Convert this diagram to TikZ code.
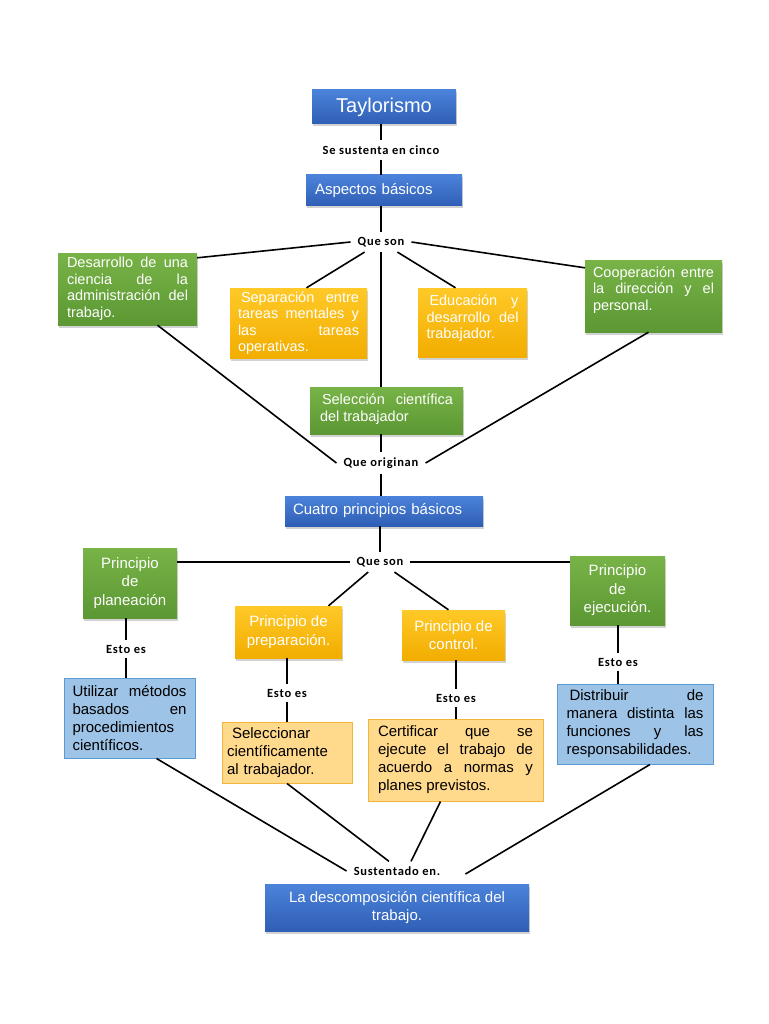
\documentclass[tikz,border=0pt]{standalone}
\usepackage{fontspec}
\setmainfont{Liberation Sans}
\newfontfamily\lblfont[LetterSpace=6]{Carlito}
\usetikzlibrary{shadows}

\definecolor{bluetop}{HTML}{4C83DA}
\definecolor{bluebot}{HTML}{2F5EB6}
\definecolor{greentop}{HTML}{77B347}
\definecolor{greenbot}{HTML}{5C9833}
\definecolor{orangetop}{HTML}{FFC928}
\definecolor{orangebot}{HTML}{F2AD00}
\definecolor{lbfill}{HTML}{9DC3E6}
\definecolor{lbline}{HTML}{5B9BD5}
\definecolor{lofill}{HTML}{FFD98C}
\definecolor{loline}{HTML}{F4B63A}

\tikzset{
  darkbox/.style={draw=none, text=white, inner sep=0pt,
    font=\fontsize{14.5}{16.5}\selectfont,
    drop shadow={shadow xshift=1pt, shadow yshift=-2.5pt, opacity=0.35}},
  bluebox/.style={darkbox, top color=bluetop, bottom color=bluebot},
  greenbox/.style={darkbox, top color=greentop, bottom color=greenbot},
  orangebox/.style={darkbox, top color=orangetop, bottom color=orangebot},
  principle/.style={align=center, font=\fontsize{15}{18.5}\selectfont},
  lightbox/.style={line width=1pt, text=black, inner sep=0pt,
    font=\fontsize{15}{18}\selectfont},
  lbbox/.style={lightbox, draw=lbline, fill=lbfill},
  lobox/.style={lightbox, draw=loline, fill=lofill},
  tag/.style={font=\lblfont\bfseries\fontsize{12.5}{14}\selectfont,
    inner xsep=7pt, inner ysep=5pt},
  link/.style={line width=1.6pt}
}

\begin{document}
\begin{tikzpicture}[x=1pt,y=-1pt]
\useasboundingbox[fill=white] (0,0) rectangle (768,1024);

\node[bluebox, minimum width=144, minimum height=34, font=\fontsize{20}{24}\selectfont] (tay) at (384,107) {Taylorismo};
\node[tag] (sus) at (381,150) {Se sustenta en cinco};
\node[bluebox, minimum width=156, minimum height=31, text width=138, align=left, font=\fontsize{15}{18}\selectfont] (asp) at (384,190.5) {Aspectos básicos};
\node[tag] (que1) at (381,242) {Que son};

\node[greenbox, minimum width=139, minimum height=72, text width=121, align=justify] (des) at (127.5,289)
  {Desarrollo de una\linebreak ciencia de la\linebreak administración del\linebreak trabajo.};
\node[orangebox, minimum width=137, minimum height=70, text width=121, align=justify] (sep) at (298.5,323)
  {\hspace{3pt}Separación entre\linebreak tareas mentales y\linebreak las tareas\linebreak operativas.};
\node[orangebox, minimum width=109, minimum height=69, text width=92, align=justify] (edu) at (472.5,322.5)
  {\hspace{3pt}Educación y\linebreak desarrollo del\linebreak trabajador.\par\vspace*{8pt}};
\node[greenbox, minimum width=137, minimum height=72, text width=121, align=justify] (coo) at (653.5,296)
  {Cooperación entre\linebreak la dirección y el\linebreak personal.\par\vspace*{12pt}};
\node[greenbox, minimum width=153, minimum height=47, text width=133, align=justify] (sel) at (386.5,410.5)
  {\hspace{2pt}Selección científica\linebreak del trabajador\par\vspace*{3pt}};

\node[tag] (ori) at (381,463) {Que originan};
\node[bluebox, minimum width=198, minimum height=30, text width=182, align=left, font=\fontsize{15}{18}\selectfont] (cua) at (384,511) {Cuatro principios básicos};
\node[tag] (que2) at (380,562) {Que son};

\node[greenbox, principle, minimum width=94, minimum height=70] (pla) at (130,583) {Principio\\de\\planeación};
\node[orangebox, principle, minimum width=107, minimum height=52] (pre) at (288.5,632) {Principio de\\preparación.};
\node[orangebox, principle, minimum width=103, minimum height=50] (con) at (453.5,635) {Principio de\\control.};
\node[greenbox, principle, minimum width=95, minimum height=69] (eje) at (617.5,590.5) {Principio\\de\\ejecución.};

\node[tag] (esto1) at (126,649) {Esto es};
\node[tag] (esto2) at (287,693) {Esto es};
\node[tag] (esto3) at (456,698) {Esto es};
\node[tag] (esto4) at (618,662) {Esto es};

\node[lbbox, minimum width=131, minimum height=80, text width=114, align=justify] (uti) at (129.5,718)
  {Utilizar métodos\linebreak basados en\linebreak procedimientos\newline científicos.};
\node[lobox, minimum width=130, minimum height=61, text width=120, align=left] (slc) at (287,752.5)
  {\hspace{5pt}Seleccionar\\científicamente\\al trabajador.};
\node[lobox, minimum width=175, minimum height=82, text width=155, align=justify] (cer) at (455.5,760)
  {Certificar que se\linebreak ejecute el trabajo de\linebreak acuerdo a normas y\linebreak planes previstos.};
\node[lbbox, minimum width=156, minimum height=80, text width=137, align=justify] (dis) at (635,724)
  {\hspace{3pt}Distribuir de\linebreak manera distinta las\linebreak funciones y las\linebreak responsabilidades.};

\node[tag] (sust) at (397,871) {Sustentado en.};
\node[bluebox, minimum width=264, minimum height=47, align=center, font=\fontsize{15}{18}\selectfont] (lad) at (397,907.5)
  {La descomposición científica del\\trabajo.};

\draw[link] (sus) -- (sus |- tay.south);
\draw[link] (sus) -- (sus |- asp.north);
\draw[link] (que1) -- (que1 |- asp.south);
\draw[link] (que1.west) -- ([yshift=-5pt]des.north east);
\draw[link] (que1) -- ([xshift=8pt]sep.north);
\draw[link] (que1) -- (que1 |- sel.north);
\draw[link] (que1) -- ([xshift=-17pt]edu.north);
\draw[link] (que1.east) -- ([yshift=-8pt]coo.north west);
\draw[link] (ori.west) -- ([xshift=30pt]des.south);
\draw[link] (ori.east) -- ([xshift=-5pt]coo.south);
\draw[link] (ori) -- (ori |- sel.south);
\draw[link] (ori) -- (ori |- cua.north);
\draw[link] (que2) -- (que2 |- cua.south);
\draw[link] (que2) -- (que2 -| pla.east);
\draw[link] (que2) -- (que2 -| eje.west);
\draw[link] (que2) -- ([xshift=40pt]pre.north);
\draw[link] (que2) -- ([xshift=-5pt]con.north);
\draw[link] (esto1) -- (esto1 |- pla.south);
\draw[link] (esto1) -- (esto1 |- uti.north);
\draw[link] (esto2) -- (esto2 |- pre.south);
\draw[link] (esto2) -- (esto2 |- slc.north);
\draw[link] (esto3) -- (esto3 |- con.south);
\draw[link] (esto3) -- (esto3 |- cer.north);
\draw[link] (esto4) -- (esto4 |- eje.south);
\draw[link] (esto4) -- (esto4 |- dis.north);
\draw[link] (sust.west) -- ([xshift=27pt]uti.south);
\draw[link] ([xshift=-8pt]sust.north) -- (slc.south);
\draw[link] ([xshift=14pt]sust.north) -- ([xshift=-15pt]cer.south);
\draw[link] ([xshift=18pt,yshift=-3pt]sust.east) -- ([xshift=15pt]dis.south);
\end{tikzpicture}
\end{document}
